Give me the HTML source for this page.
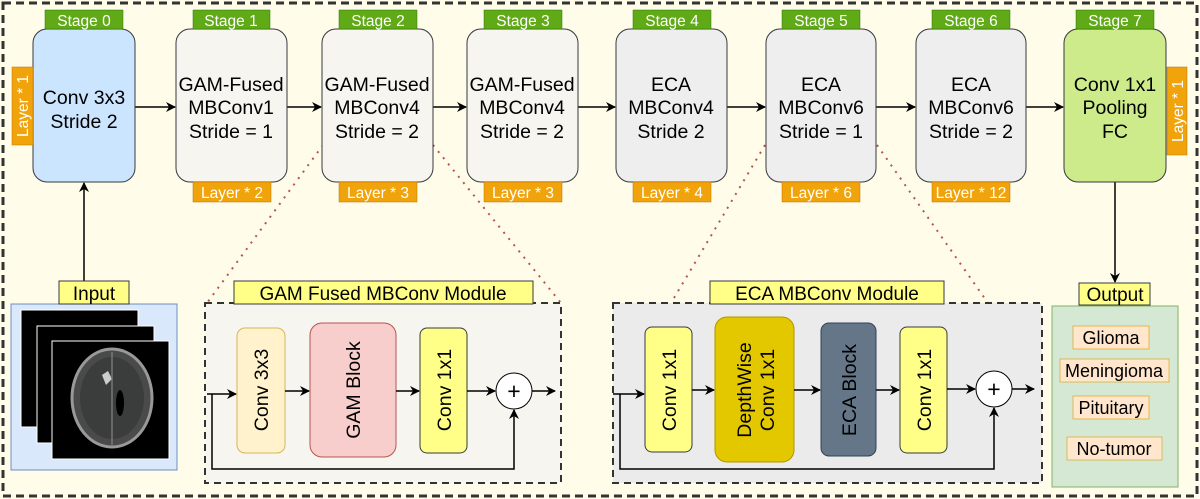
<!DOCTYPE html>
<html><head><meta charset="utf-8"><style>
html,body{margin:0;padding:0;background:#fff;}
svg{display:block;font-family:"Liberation Sans",sans-serif;}
</style></head><body>
<svg width="1200" height="499" viewBox="0 0 1200 499" xmlns="http://www.w3.org/2000/svg">
<defs>
<marker id="a" markerWidth="10" markerHeight="10" refX="9" refY="5" orient="auto" markerUnits="userSpaceOnUse">
<path d="M0,0 L10,5 L0,10 L3,5 Z" fill="#000"/></marker>
</defs>
<rect x="0" y="0" width="1200" height="499" fill="#fffdea"/>
<rect x="3" y="3" width="1194" height="493" fill="none" stroke="#333" stroke-width="3" stroke-dasharray="8,5"/>

<g stroke="#000" stroke-width="1.5" marker-end="url(#a)">
<line x1="135" y1="107" x2="175" y2="107"/>
<line x1="287" y1="107" x2="321" y2="107"/>
<line x1="433" y1="107" x2="466" y2="107"/>
<line x1="578" y1="107" x2="615" y2="107"/>
<line x1="727" y1="107" x2="765" y2="107"/>
<line x1="876" y1="107" x2="915" y2="107"/>
<line x1="1026" y1="107" x2="1063" y2="107"/>
<line x1="84" y1="281" x2="84" y2="183"/>
<line x1="1115" y1="182" x2="1115" y2="282"/>
</g>

<g stroke="#b85450" stroke-width="2" stroke-dasharray="2,6" fill="none">
<line x1="323" y1="145" x2="207" y2="303"/>
<line x1="433" y1="145" x2="561" y2="303"/>
<line x1="765" y1="145" x2="671" y2="303"/>
<line x1="877" y1="145" x2="988" y2="303"/>
</g>

<g stroke="#36393d" stroke-width="1">
<rect x="33" y="29" width="102" height="153" rx="14" fill="#cce5ff"/>
<rect x="176" y="29" width="111" height="153" rx="14" fill="#f7f5ef"/>
<rect x="322" y="29" width="111" height="153" rx="14" fill="#f7f5ef"/>
<rect x="467" y="29" width="111" height="153" rx="14" fill="#f7f5ef"/>
<rect x="616" y="29" width="111" height="153" rx="14" fill="#eeeeee"/>
<rect x="766" y="29" width="110" height="153" rx="14" fill="#eeeeee"/>
<rect x="916" y="29" width="110" height="153" rx="14" fill="#eeeeee"/>
<rect x="1064" y="29" width="102" height="153" rx="14" fill="#cdeb8b"/>
</g>
<g font-size="19.5" text-anchor="middle" fill="#000">
<text x="84" y="104">Conv 3x3</text><text x="84" y="128">Stride 2</text>
<text x="231" y="91">GAM-Fused</text><text x="231" y="114">MBConv1</text><text x="231" y="138">Stride = 1</text>
<text x="377" y="91">GAM-Fused</text><text x="377" y="114">MBConv4</text><text x="377" y="138">Stride = 2</text>
<text x="522" y="91">GAM-Fused</text><text x="522" y="114">MBConv4</text><text x="522" y="138">Stride = 2</text>
<text x="671" y="91">ECA</text><text x="671" y="114">MBConv4</text><text x="671" y="138">Stride 2</text>
<text x="821" y="91">ECA</text><text x="821" y="114">MBConv6</text><text x="821" y="138">Stride = 1</text>
<text x="971" y="91">ECA</text><text x="971" y="114">MBConv6</text><text x="971" y="138">Stride = 2</text>
<text x="1115" y="91">Conv 1x1</text><text x="1115" y="114">Pooling</text><text x="1115" y="138">FC</text>
</g>

<g fill="#60a917" stroke="#2d7600" stroke-width="0.5">
<rect x="45" y="10" width="78" height="19"/>
<rect x="193" y="10" width="77" height="19"/>
<rect x="339" y="10" width="78" height="19"/>
<rect x="484" y="10" width="78" height="19"/>
<rect x="633" y="10" width="78" height="19"/>
<rect x="782" y="10" width="78" height="19"/>
<rect x="932" y="10" width="78" height="19"/>
<rect x="1076" y="10" width="78" height="19"/>
</g>
<g font-size="15.5" fill="#fff" text-anchor="middle">
<text x="84" y="26">Stage 0</text><text x="231" y="26">Stage 1</text><text x="378" y="26">Stage 2</text>
<text x="523" y="26">Stage 3</text><text x="672" y="26">Stage 4</text><text x="821" y="26">Stage 5</text>
<text x="971" y="26">Stage 6</text><text x="1115" y="26">Stage 7</text>
</g>

<g fill="#f0a30a" stroke="#bd7000" stroke-width="0.5">
<rect x="12" y="67" width="21" height="78"/>
<rect x="1167" y="67" width="20" height="88"/>
<rect x="193" y="182" width="78" height="20"/>
<rect x="339" y="182" width="78" height="20"/>
<rect x="484" y="182" width="78" height="20"/>
<rect x="633" y="182" width="78" height="20"/>
<rect x="782" y="182" width="78" height="20"/>
<rect x="932" y="182" width="78" height="20"/>
</g>
<g font-size="15.5" fill="#fff" text-anchor="middle">
<text transform="translate(28,106) rotate(-90)">Layer * 1</text>
<text transform="translate(1183,111) rotate(-90)">Layer * 1</text>
<text x="232" y="198">Layer * 2</text><text x="378" y="198">Layer * 3</text><text x="523" y="198">Layer * 3</text>
<text x="672" y="198">Layer * 4</text><text x="821" y="198">Layer * 6</text><text x="971" y="198">Layer * 12</text>
</g>

<rect x="11" y="304" width="166" height="166" fill="#dae8fc" stroke="#6c8ebf"/>
<rect x="21" y="310" width="117" height="117" fill="#000" stroke="#fff" stroke-width="1"/>
<rect x="37" y="326" width="117" height="117" fill="#000" stroke="#fff" stroke-width="1"/>
<rect x="52" y="341" width="117" height="118" fill="#000" stroke="#fff" stroke-width="1"/>
<ellipse cx="112" cy="398" rx="40" ry="49" fill="#4a4a4a" stroke="#999" stroke-width="3"/>
<ellipse cx="112" cy="398" rx="32" ry="41" fill="#3a3d3c"/>
<path d="M102,375 l6,-4 l4,8 l-6,6 z" fill="#ccc"/>
<ellipse cx="120" cy="403" rx="4" ry="13" fill="#000"/>
<line x1="112" y1="352" x2="112" y2="445" stroke="#777" stroke-width="1.5"/>
<rect x="59" y="281" width="70" height="23" fill="#ffff88" stroke="#36393d"/>
<text x="94" y="300" font-size="19" text-anchor="middle">Input</text>

<rect x="205" y="303" width="356" height="180" fill="#f7f5ef" stroke="#333" stroke-width="2" stroke-dasharray="7,5"/>
<rect x="234" y="281" width="299" height="23" fill="#ffff88" stroke="#36393d"/>
<text x="383" y="300" font-size="19" text-anchor="middle">GAM Fused MBConv Module</text>
<rect x="237" y="328" width="48" height="125" rx="8" fill="#fff2cc" stroke="#d6b656"/>
<rect x="310" y="323" width="86" height="134" rx="12" fill="#f8cecc" stroke="#b85450"/>
<rect x="420" y="328" width="47" height="125" rx="7" fill="#ffff88" stroke="#36393d"/>
<g font-size="19.5" text-anchor="middle">
<text transform="translate(268,390) rotate(-90)">Conv 3x3</text>
<text transform="translate(360,390) rotate(-90)">GAM Block</text>
<text transform="translate(451,390) rotate(-90)">Conv 1x1</text>
</g>
<g stroke="#000" stroke-width="1.5" fill="none">
<line x1="207" y1="394" x2="236" y2="394" marker-end="url(#a)"/>
<line x1="285" y1="391" x2="309" y2="391" marker-end="url(#a)"/>
<line x1="396" y1="391" x2="419" y2="391" marker-end="url(#a)"/>
<line x1="467" y1="391" x2="495" y2="391" marker-end="url(#a)"/>
<line x1="532" y1="391" x2="555" y2="391" marker-end="url(#a)"/>
<polyline points="212,394 212,469 514,469 514,410" marker-end="url(#a)"/>
</g>
<circle cx="514" cy="391" r="18" fill="#fff" stroke="#000"/>
<text x="514" y="399" font-size="23" text-anchor="middle">+</text>

<rect x="613" y="303" width="429" height="180" fill="#ebebeb" stroke="#333" stroke-width="2" stroke-dasharray="7,5"/>
<rect x="710" y="281" width="234" height="23" fill="#ffff88" stroke="#36393d"/>
<text x="827" y="300" font-size="19" text-anchor="middle">ECA MBConv Module</text>
<rect x="645" y="327" width="47" height="125" rx="7" fill="#ffff88" stroke="#36393d"/>
<rect x="715" y="317" width="79" height="145" rx="12" fill="#e3c800" stroke="#b09500"/>
<rect x="821" y="323" width="55" height="133" rx="8" fill="#647687" stroke="#314354"/>
<rect x="900" y="327" width="47" height="126" rx="7" fill="#ffff88" stroke="#36393d"/>
<g font-size="19.5" text-anchor="middle">
<text transform="translate(676,390) rotate(-90)">Conv 1x1</text>
<text transform="translate(751,390) rotate(-90)">DepthWise</text>
<text transform="translate(774,390) rotate(-90)">Conv 1x1</text>
<text transform="translate(856,390) rotate(-90)">ECA Block</text>
<text transform="translate(931,390) rotate(-90)">Conv 1x1</text>
</g>
<g stroke="#000" stroke-width="1.5" fill="none">
<line x1="613" y1="394" x2="644" y2="394" marker-end="url(#a)"/>
<line x1="692" y1="390" x2="714" y2="390" marker-end="url(#a)"/>
<line x1="794" y1="390" x2="820" y2="390" marker-end="url(#a)"/>
<line x1="876" y1="390" x2="899" y2="390" marker-end="url(#a)"/>
<line x1="947" y1="389" x2="975" y2="389" marker-end="url(#a)"/>
<line x1="1012" y1="389" x2="1034" y2="389" marker-end="url(#a)"/>
<polyline points="620,394 620,469 994,469 994,408" marker-end="url(#a)"/>
</g>
<circle cx="994" cy="389" r="18" fill="#fff" stroke="#000"/>
<text x="994" y="397" font-size="23" text-anchor="middle">+</text>

<rect x="1052" y="306" width="126" height="181" fill="#d5e8d4" stroke="#82b366"/>
<rect x="1079" y="283" width="71" height="22" fill="#ffff88" stroke="#36393d"/>
<text x="1115" y="301" font-size="19" text-anchor="middle">Output</text>
<g fill="#ffe6cc" stroke="#d79b00" stroke-width="0.6">
<rect x="1073" y="326" width="76" height="23"/>
<rect x="1060" y="359" width="109" height="23"/>
<rect x="1073" y="396" width="76" height="23"/>
<rect x="1067" y="437" width="95" height="23"/>
</g>
<g font-size="18" text-anchor="middle">
<text x="1111" y="344">Glioma</text>
<text x="1114" y="377">Meningioma</text>
<text x="1111" y="414">Pituitary</text>
<text x="1114" y="455">No-tumor</text>
</g>
</svg>
</body></html>
